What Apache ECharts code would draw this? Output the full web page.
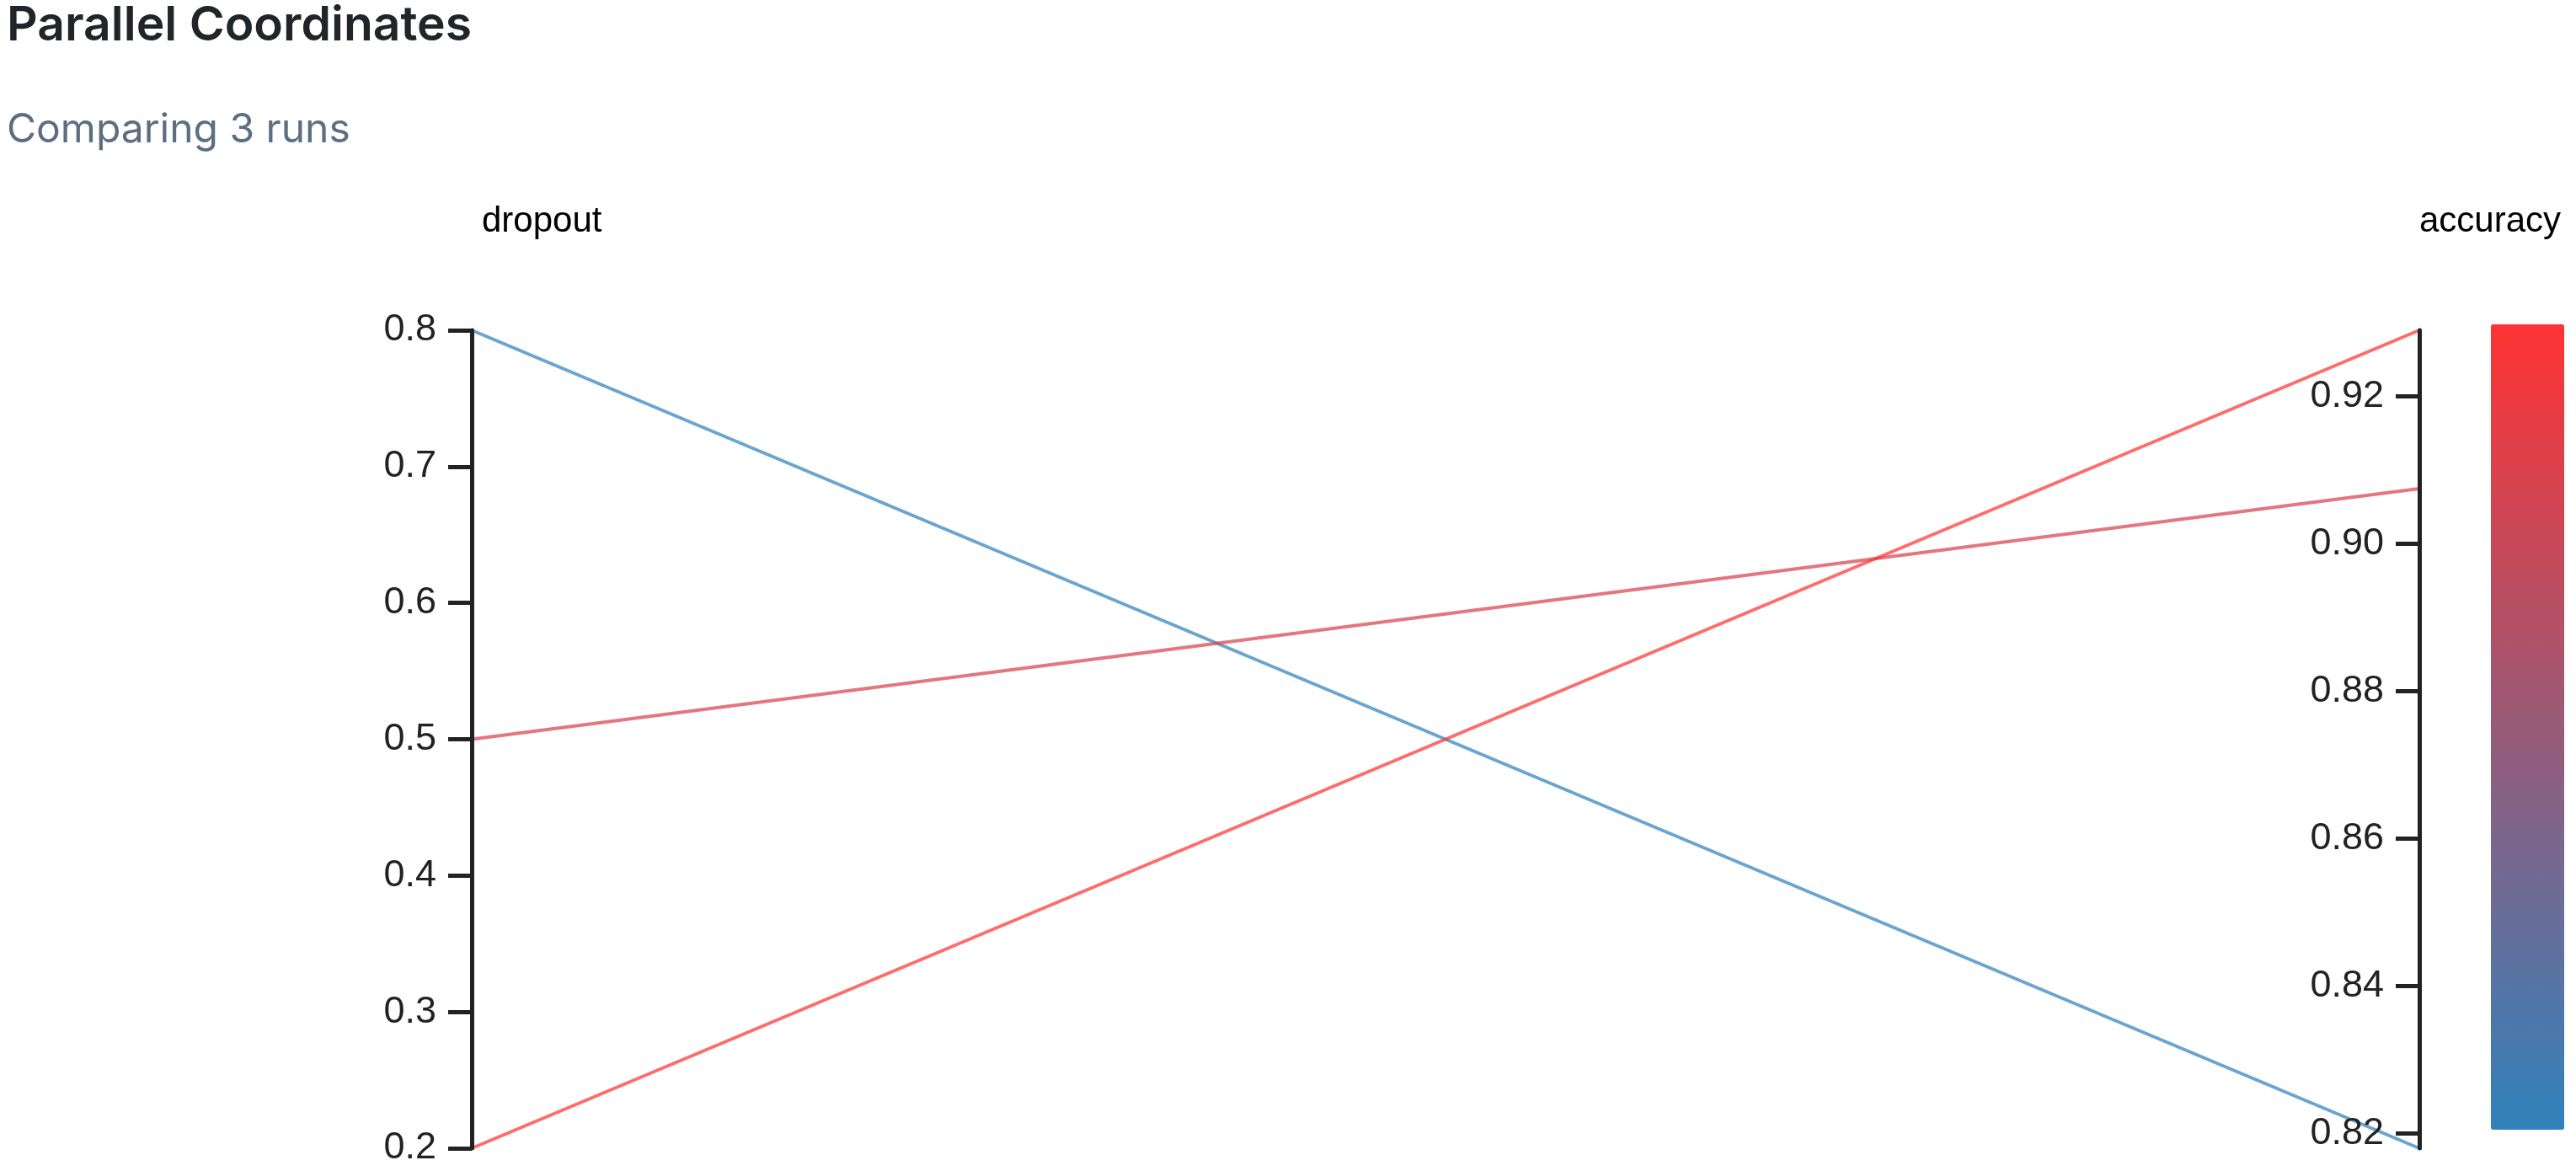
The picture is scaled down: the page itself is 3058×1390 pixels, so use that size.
<!DOCTYPE html>
<html>
<head>
<meta charset="utf-8">
<script src="https://cdn.jsdelivr.net/npm/echarts@6/dist/echarts.min.js"></script>
<style>
  html, body { margin: 0; padding: 0; background: #fff; }
  #chart { width: 3058px; height: 1390px; }
</style>
</head>
<body>
<div id="chart"></div>
<script>
// ---- data ----
var dimensionNames = ['dropout', 'accuracy'];
var dropout = [0.8, 0.5, 0.2];
var accuracy = [0.818, 0.9075, 0.929];
var dropoutTicks = [0.2, 0.3, 0.4, 0.5, 0.6, 0.7, 0.8];
var accuracyTicks = [0.82, 0.84, 0.86, 0.88, 0.90, 0.92];
var titleText = 'Parallel Coordinates';
var subtitleText = 'Comparing 3 runs';

var rows = dropout.map(function (d, i) { return [d, accuracy[i]]; });
var dropMin = Math.min.apply(null, dropout), dropMax = Math.max.apply(null, dropout);
var accMin = Math.min.apply(null, accuracy), accMax = Math.max.apply(null, accuracy);

var axisColor = '#222222';
var labelFont = '"Liberation Sans", Arial, sans-serif';

function axisCommon(name, ticks, digits) {
  return {
    name: name,
    nameLocation: 'end',
    nameGap: 108,
    nameTextStyle: { fontFamily: labelFont, fontSize: 42, color: '#000', align: 'left' },
    axisLine: { show: true, lineStyle: { color: axisColor, width: 5 } },
    axisTick: { show: true, length: -28, lineStyle: { color: axisColor, width: 5 }, customValues: ticks },
    axisLabel: {
      show: true, margin: -42, align: 'right', fontFamily: labelFont, fontSize: 45, color: axisColor,
      customValues: ticks,
      formatter: function (v) { return Number(v).toFixed(digits); }
    },
    splitLine: { show: false }
  };
}

var ax0 = axisCommon(dimensionNames[0], dropoutTicks, 1);
ax0.dim = 0; ax0.min = dropMin; ax0.max = dropMax;
ax0.nameTextStyle.padding = [0, 0, 0, 12];
var ax1 = axisCommon(dimensionNames[1], accuracyTicks, 2);
ax1.dim = 1; ax1.min = accMin; ax1.max = accMax;

var chart = echarts.init(document.getElementById('chart'), null, { renderer: 'canvas' });
chart.setOption({
  animation: false,
  backgroundColor: '#ffffff',
  title: [
    { text: titleText, left: 8, top: 2, padding: 0,
      textStyle: { fontFamily: 'Inter, "Noto Sans", sans-serif', fontSize: 57, fontWeight: 600, color: '#212529' } },
    { text: subtitleText, left: 8, top: 131, padding: 0,
      textStyle: { fontFamily: 'Inter, "Noto Sans", sans-serif', fontSize: 48, fontWeight: 400, color: '#5c6f82' } }
  ],
  parallel: {
    left: 560, right: 186, top: 392, bottom: 27,
    layout: 'horizontal',
    parallelAxisDefault: { type: 'value' }
  },
  parallelAxis: [ax0, ax1],
  visualMap: {
    type: 'continuous',
    dimension: 1,
    min: accMin,
    max: accMax,
    calculable: false,
    show: true,
    left: 2957,
    top: 385,
    padding: 0,
    itemWidth: 87,
    itemHeight: 956,
    text: null,
    inRange: { color: ['#3182bd', '#ff3333'] }
  },
  series: [{
    type: 'parallel',
    smooth: false,
    lineStyle: { width: 4, opacity: 0.72 },
    emphasis: { disabled: true },
    data: rows
  }]
});
</script>
</body>
</html>
